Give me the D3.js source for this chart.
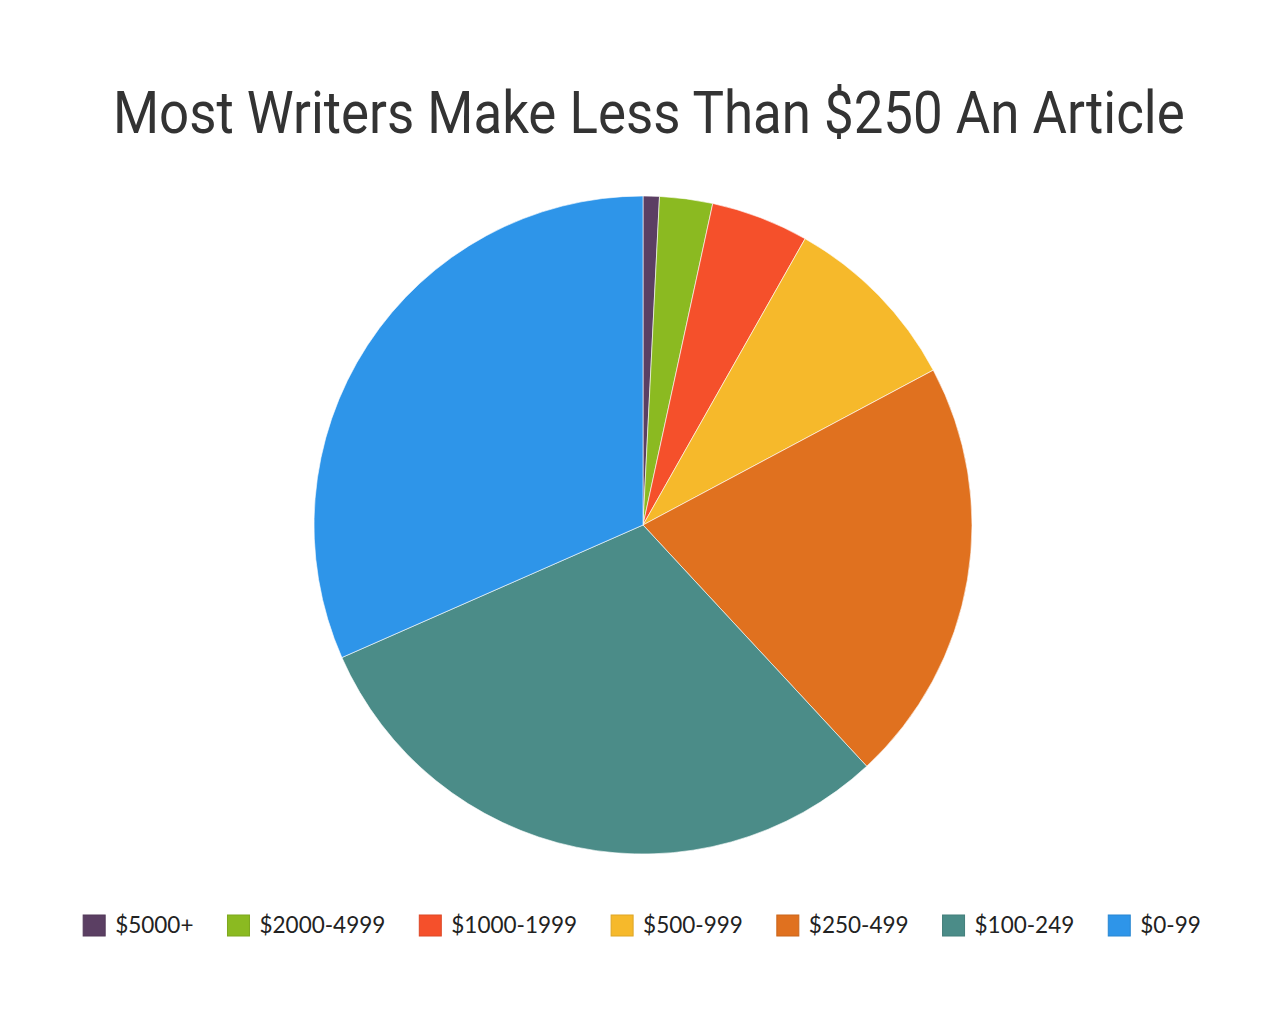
<!DOCTYPE html>
<html>
<head>
<meta charset="utf-8">
<script src="https://cdn.jsdelivr.net/npm/d3@7"></script>
<style>
  body { margin: 0; background: #fff; }
</style>
</head>
<body>
<div id="chart"></div>
<script>
// pay bands, clockwise from 12 o'clock
let categories = ["$5000+", "$2000-4999", "$1000-1999", "$500-999", "$250-499", "$100-249", "$0-99"];
let shares = [0.8, 2.6, 4.8, 9.0, 20.9, 30.3, 31.6];
let colors = ["#5b3f63", "#8bba21", "#f5502b", "#f6b92b", "#e0711f", "#4b8c88", "#2e95e9"];
let title = "Most Writers Make Less Than $250 An Article";

let svgWidth = 1280;
let svgHeight = 1020;

let svg = d3.select("#chart")
    .append("svg")
    .attr("width", svgWidth)
    .attr("height", svgHeight);

// Title - squeezed horizontally to look like a condensed face
let titleText = svg.append("text")
    .attr("y", 133)
    .attr("font-family", "Roboto, sans-serif")
    .attr("font-size", 60)
    .attr("fill", "#333")
    .text(title);
let natural = titleText.node().getComputedTextLength();
let sx = 1072 / natural;
titleText
    .attr("x", 113 / sx)
    .attr("transform", `scale(${sx}, 1)`);

// Pie
let cx = 643, cy = 525, radius = 329;

let pie = d3.pie()
    .value(d => d.value)
    .sort(null);

let arc = d3.arc()
    .innerRadius(0)
    .outerRadius(radius);

let data = categories.map((c, i) => ({ name: c, value: shares[i], color: colors[i] }));

let pieGroup = svg.append("g")
    .attr("transform", `translate(${cx}, ${cy})`);

pieGroup.selectAll("path")
    .data(pie(data))
    .enter()
    .append("path")
    .attr("d", arc)
    .attr("fill", d => d.data.color)
    .attr("stroke", "#ffffff")
    .attr("stroke-opacity", 0.6)
    .attr("stroke-width", 1);

// Legend
let legend = svg.append("g");
let items = legend.selectAll("g")
    .data(data)
    .enter()
    .append("g");

items.append("rect")
    .attr("width", 22)
    .attr("height", 21)
    .attr("y", 915)
    .attr("fill", d => d.color)
    .attr("stroke", d => d3.color(d.color).darker(0.3))
    .attr("stroke-width", 1);

items.append("text")
    .attr("x", 32)
    .attr("y", 933)
    .attr("font-family", "Lato, sans-serif")
    .attr("font-size", 22.5)
    .attr("fill", "#222")
    .text(d => d.name);

// lay out legend items side by side, centred
let gap = 34;
let widths = [];
items.each(function() {
    widths.push(32 + d3.select(this).select("text").node().getComputedTextLength());
});
let total = d3.sum(widths) + gap * (widths.length - 1);
let x = 642 - total / 2;
items.each(function(d, i) {
    d3.select(this).attr("transform", `translate(${x}, 0)`);
    x += widths[i] + gap;
});
</script>
</body>
</html>
